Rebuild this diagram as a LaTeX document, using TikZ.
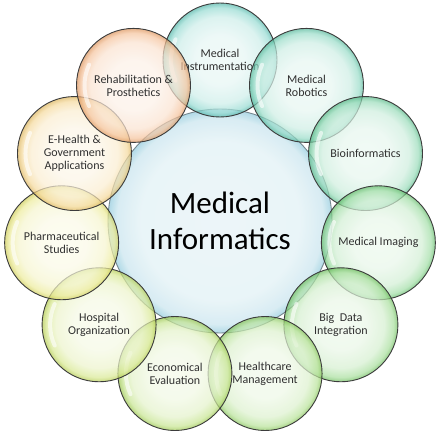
\documentclass[tikz,border=0pt]{standalone}
\usepackage{fontspec}
\setmainfont{Carlito}
\definecolor{rim}{HTML}{3C3C3C}
\definecolor{txt}{HTML}{303030}
\definecolor{cInst}{HTML}{58C6B8}
\definecolor{cRob}{HTML}{5CC8A8}
\definecolor{cBio}{HTML}{5EC892}
\definecolor{cImg}{HTML}{6ACB72}
\definecolor{cBig}{HTML}{74CC62}
\definecolor{cHc}{HTML}{8ED25C}
\definecolor{cEco}{HTML}{A6D650}
\definecolor{cHos}{HTML}{C2DC52}
\definecolor{cPha}{HTML}{E2E05E}
\definecolor{cEh}{HTML}{F0C462}
\definecolor{cReh}{HTML}{F0A062}
\definecolor{cCen}{HTML}{9ACFE0}
\definecolor{cCenRim}{HTML}{75878E}
\newcommand\mkbubble[1]{\pgfdeclareradialshading{bub#1}{\pgfpoint{0bp}{0bp}}{color(0bp)=(#1!12!white); color(11bp)=(#1!15!white); color(19bp)=(#1!30!white); color(23bp)=(#1!62!white); color(25bp)=(#1!92!black); color(50bp)=(#1!92!black)}}
\mkbubble{cInst}\mkbubble{cRob}\mkbubble{cBio}\mkbubble{cImg}\mkbubble{cBig}\mkbubble{cHc}
\mkbubble{cEco}\mkbubble{cHos}\mkbubble{cPha}\mkbubble{cEh}\mkbubble{cReh}
\pgfdeclareradialshading{bubcenter}{\pgfpoint{0bp}{0bp}}{color(0bp)=(cCen!20!white); color(18bp)=(cCen!24!white); color(23bp)=(cCen!42!white); color(25bp)=(cCen!85!white); color(50bp)=(cCen)}
\tikzset{
  bubblenode/.style={circle, draw=rim, line width=0.9pt, minimum size=114pt, inner sep=0pt,
    shading=bub#1, fill opacity=0.7, text opacity=1, text=txt, align=center,
    font=\fontsize{12}{13}\selectfont},
  centernode/.style={circle, draw=cCenRim, line width=0.9pt, minimum size=224pt, inner sep=0pt,
    shading=bubcenter, fill opacity=0.9, text opacity=1, text=black, align=center,
    font=\fontsize{31}{36}\selectfont},
  gloss/.style={white, line width=4pt, line cap=round, opacity=0.6}
}
\begin{document}
\begin{tikzpicture}[x=1pt,y=-1pt]
\useasboundingbox (0,0) rectangle (440,436);
\fill[white] (0,0) rectangle (440,436);
\node[centernode] (c) at (220,221) {Medical\\Informatics};
\foreach \k/\col/\lab in {
  0/cInst/{Medical\\Instrumentation},
  1/cRob/{Medical\\Robotics},
  2/cBio/{Bioinformatics},
  3/cImg/{Medical Imaging},
  4/cBig/{Big~ Data\\Integration},
  5/cHc/{Healthcare\\Management},
  6/cEco/{Economical\\Evaluation},
  7/cHos/{Hospital\\Organization},
  8/cPha/{Pharmaceutical\\Studies},
  9/cEh/{E-Health \&\\Government\\Applications},
  10/cReh/{Rehabilitation \&\\Prosthetics}}{
  \node[bubblenode=\col] (o\k) at ({220+160*cos(90-32.7273*\k)},{220-160*sin(90-32.7273*\k)}) {\lab};
  \draw[gloss] (o\k.center) ++(155:49) arc (155:205:49);
}
\end{tikzpicture}
\end{document}
